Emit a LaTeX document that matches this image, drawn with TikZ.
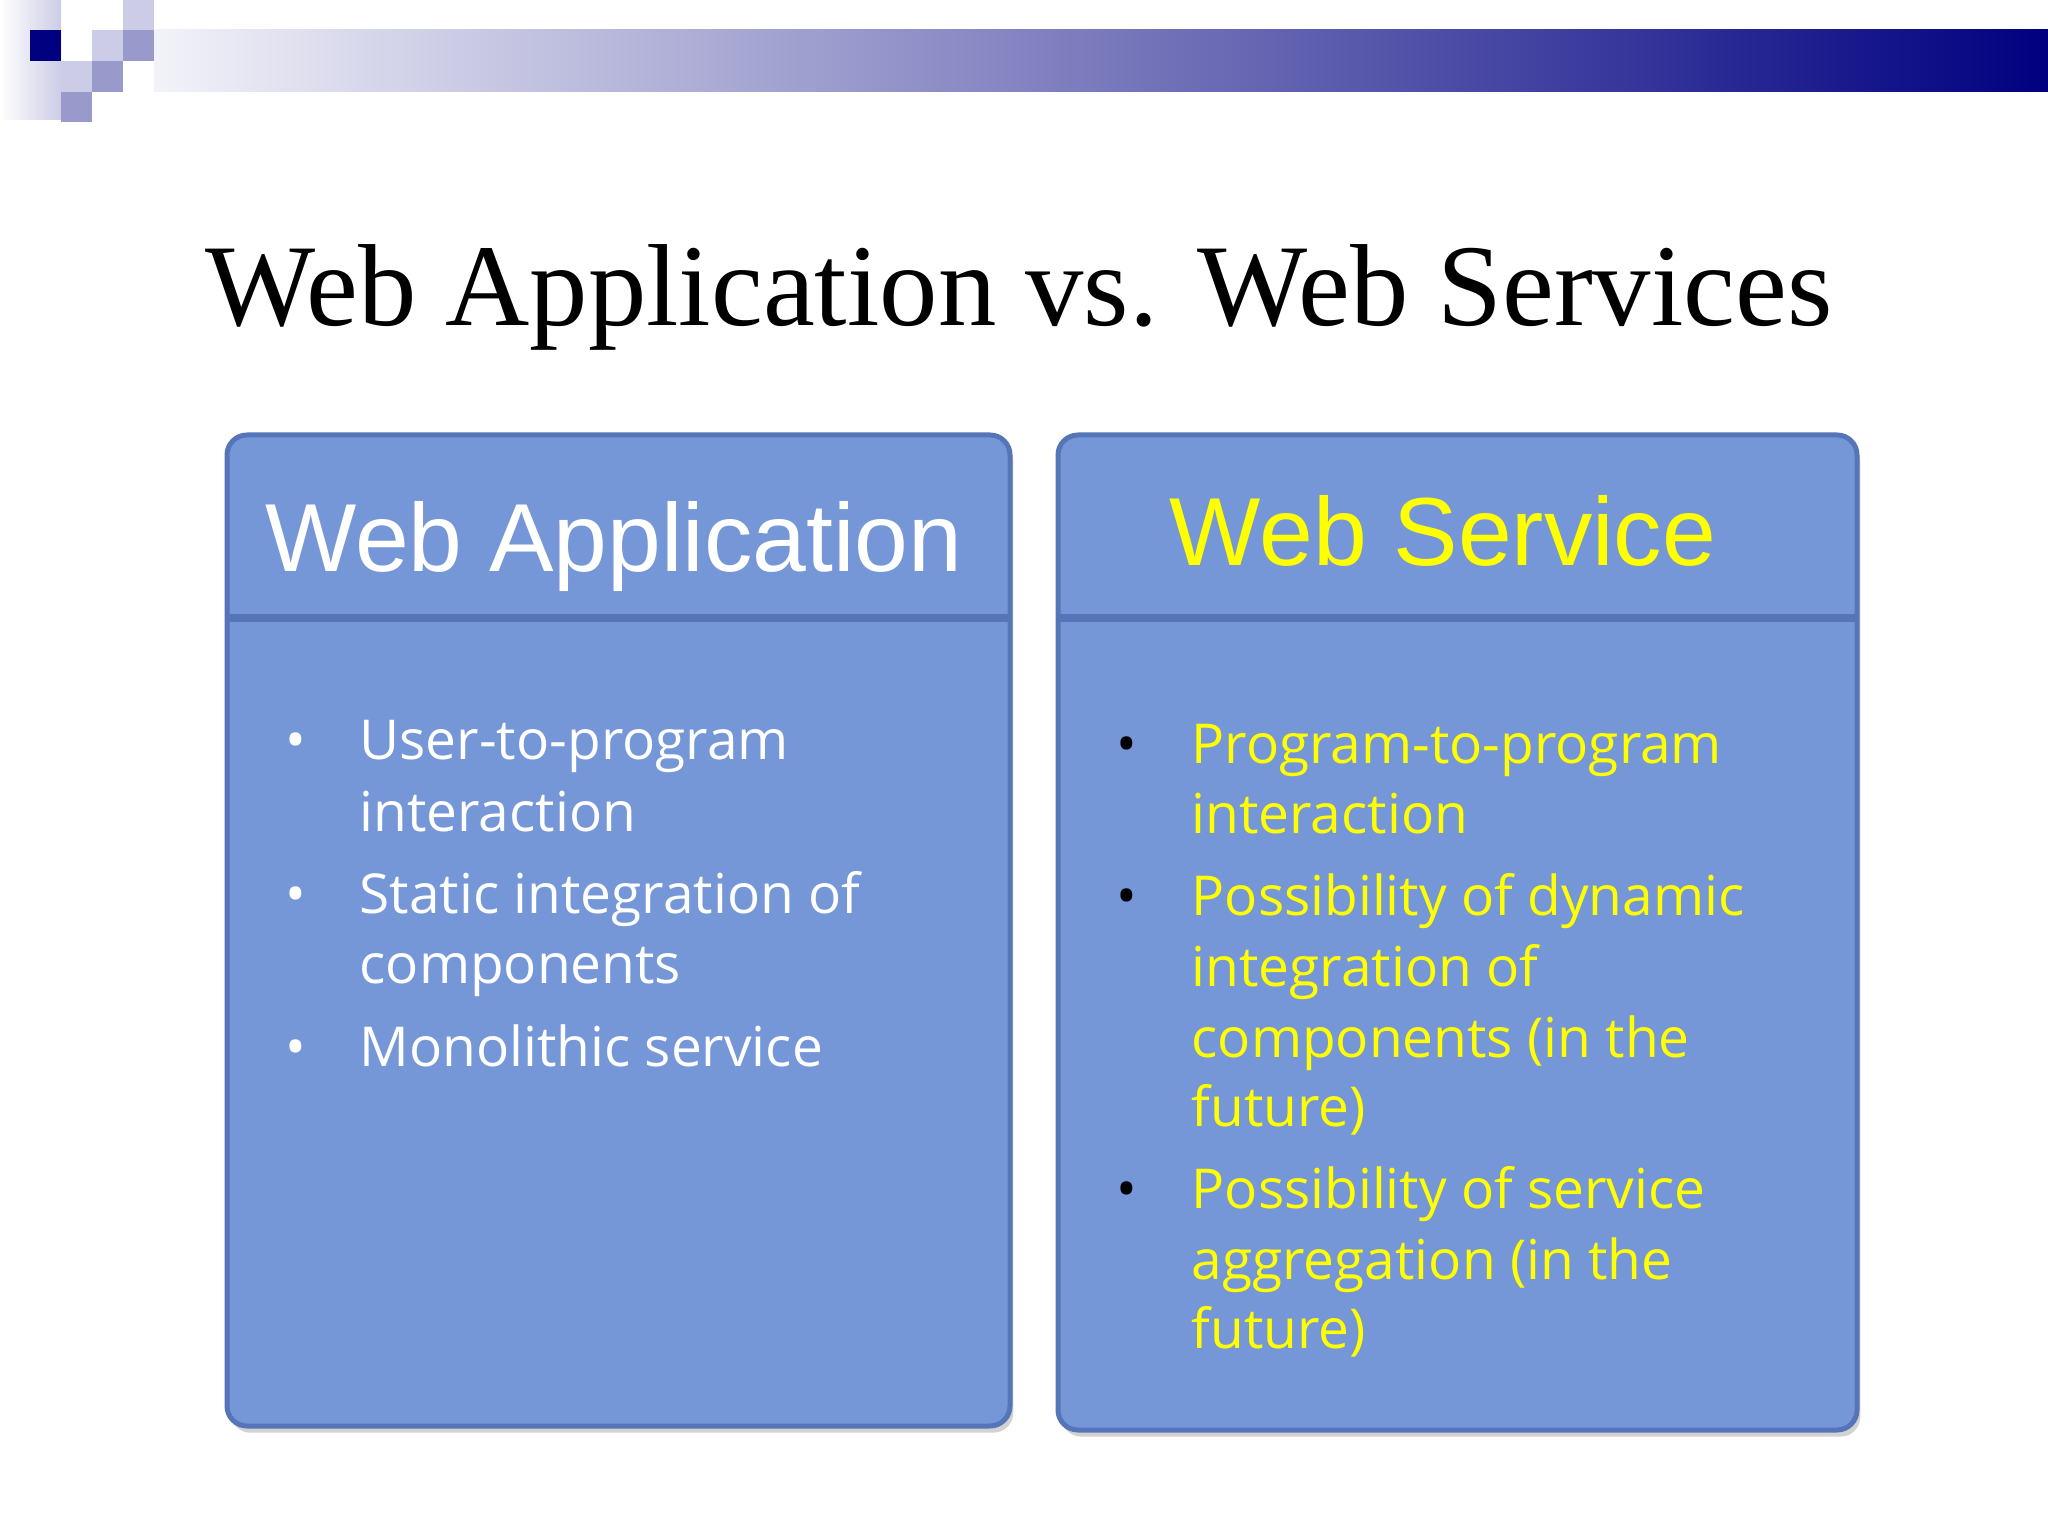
\documentclass[tikz,border=0pt]{standalone}
\usepackage{fontspec}
\setmainfont{Liberation Serif}
\newfontfamily\arialf{Liberation Sans}
\newfontfamily\bodyf{Open Sans}
\usetikzlibrary{shadows}
\definecolor{navy}{HTML}{000080}
\definecolor{lightsq}{HTML}{CCCCE6}
\definecolor{medsq}{HTML}{9999CC}
\definecolor{boxfill}{HTML}{7697D7}
\definecolor{boxedge}{HTML}{5575B8}
\definecolor{yel}{HTML}{FFFF00}
\tikzset{
  panel/.style={draw=boxedge, line width=1.5pt, fill=boxfill, rounded corners=6pt, drop shadow={shadow xshift=1pt, shadow yshift=-2pt, opacity=0.35}},
  hdr/.style={font=\arialf\fontsize{29}{34}\selectfont, inner sep=0pt},
  item/.style={font=\bodyf\fontsize{16.5}{20}\selectfont, inner sep=0pt, anchor=base west},
  bul/.style={font=\bodyf\fontsize{16.5}{20}\selectfont, inner sep=0pt, anchor=base},
}
\begin{document}
\begin{tikzpicture}[x=0.3pt,y=-0.3pt]
\useasboundingbox (0,0) rectangle (2048,1536);
\fill[white] (0,0) rectangle (2048,1536);
% decoration
\shade[left color=white, right color=lightsq] (0,0) rectangle (61,120);
\shade[left color=white!95!navy, right color=navy] (154,30) rectangle (2048,92);
\fill[lightsq] (123,0) rectangle (154,30);
\fill[lightsq] (92,30) rectangle (123,61);
\fill[medsq] (123,30) rectangle (154,61);
\fill[lightsq] (61,61) rectangle (92,92);
\fill[medsq] (92,61) rectangle (123,92);
\fill[medsq] (61,92) rectangle (92,122);
\fill[navy] (30,30) rectangle (61,61);
% title
\node[font=\fontsize{35}{40}\selectfont, anchor=base, inner sep=0pt] (title) at (1019,326) {Web Application vs. Web Services};
% panels
\path[panel] (227,435) rectangle (1010,1426);
\path[panel] (1058,435) rectangle (1857,1430);
\draw[boxedge, line width=2.5pt] (229,618) -- (1008,618);
\draw[boxedge, line width=2.5pt] (1060,618) -- (1855,618);
\node[hdr, white, anchor=base west] (h1) at (265,572) {Web Application};
\node[hdr, yel, anchor=base] (h2) at (1443,566) {Web Service};
% left items
\begin{scope}[white]
\node[bul] (b1) at (296,760) {•};
\node[item] (l1) at (359,760) {User-to-program};
\node[item] (l2) at (359,831) {interaction};
\node[bul] (b2) at (296,913) {•};
\node[item] (l3) at (359,913) {Static integration of};
\node[item] (l4) at (359,983) {components};
\node[bul] (b3) at (296,1066) {•};
\node[item] (l5) at (359,1066) {Monolithic service};
\end{scope}
% right items
\node[bul, black] (c1) at (1127,763) {•};
\node[bul, black] (c2) at (1127,915) {•};
\node[bul, black] (c3) at (1127,1208) {•};
\begin{scope}[yel]
\node[item] (r1) at (1191,763) {Program-to-program};
\node[item] (r2) at (1191,833) {interaction};
\node[item] (r3) at (1191,915) {Possibility of dynamic};
\node[item] (r4) at (1191,986) {integration of};
\node[item] (r5) at (1191,1057) {components (in the};
\node[item] (r6) at (1191,1126) {future)};
\node[item] (r7) at (1191,1208) {Possibility of service};
\node[item] (r8) at (1191,1279) {aggregation (in the};
\node[item] (r9) at (1191,1348) {future)};
\end{scope}
\end{tikzpicture}
\end{document}
